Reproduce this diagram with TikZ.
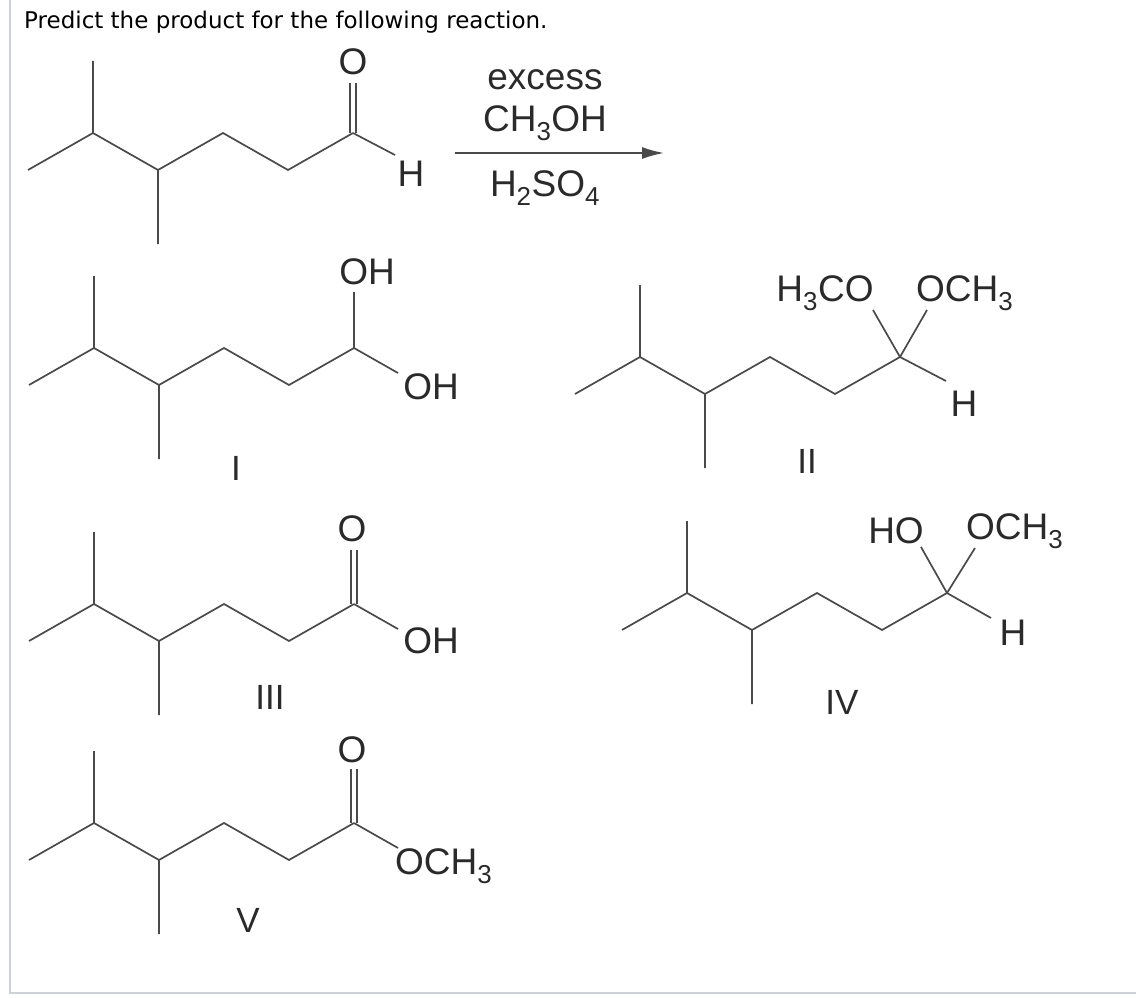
\documentclass[tikz,border=0pt]{standalone}
\usepackage{fontspec}
\usetikzlibrary{arrows.meta}
\setmainfont{Liberation Sans}
\newfontfamily\titlefont{DejaVu Sans}
\definecolor{ink}{HTML}{2A2A2A}
\definecolor{frame}{HTML}{CDD3DB}
\newcommand\skel[3]{%
 \coordinate (#1t) at (#2,#3-72);
 \coordinate (#1b) at (#2,#3);
 \coordinate (#1l) at (#2-65,#3+37);
 \coordinate (#1c4) at (#2+65,#3+37);
 \coordinate (#1m) at (#2+65,#3+111);
 \coordinate (#1c3) at (#2+130,#3);
 \coordinate (#1c2) at (#2+195,#3+37);
 \coordinate (#1c1) at (#2+260,#3);
 \draw[bond] (#1t)--(#1b)--(#1l) (#1b)--(#1c4)--(#1c3)--(#1c2)--(#1c1) (#1c4)--(#1m);}
\tikzset{bond/.style={draw=ink!85,line width=1.7pt},
 lab/.style={text=ink,font=\fontsize{37}{40}\selectfont,inner sep=0pt},
 num/.style={text=ink,font=\fontsize{35}{40}\selectfont,inner sep=0pt}}
\begin{document}
\begin{tikzpicture}[x=1pt,y=-1pt]
\useasboundingbox (0,0) rectangle (1136,998);
\fill[white] (0,0) rectangle (1136,998);
\draw[frame,line width=1.5pt] (10,0) -- (10,993) -- (1136,993);
\node[anchor=west,inner sep=0pt,font=\titlefont\fontsize{23}{26}\selectfont] (title) at (24,22) {Predict the product for the following reaction.};
% reactant
\skel{r}{93}{133}
\node[lab] (rO) at (353,62) {O};
\draw[bond] ([xshift=-3pt]rc1) -- ++(0,-50) ([xshift=3pt]rc1) -- ++(0,-50);
\coordinate (rhb) at (395,155);
\draw[bond] (rc1) -- (rhb);
\node[lab] (rH) at (411,174) {H};
\coordinate (a1) at (455,153); \coordinate (a2) at (664,153);
\draw[bond,-{Latex[length=22pt,width=12pt]}] (a1) -- (a2);
\node[lab] (ex) at (545,80) {excess};
\node[lab] (me) at (545,123) {CH\textsubscript{3}OH};
\node[lab] (ac) at (545,188) {H\textsubscript{2}SO\textsubscript{4}};
% I
\skel{i}{94}{348}
\draw[bond] (ic1) -- ++(0,-56);
\node[lab] (iO1) at (367,272) {OH};
\draw[bond] (ic1) -- ++(44,25);
\node[lab] (iO2) at (431,387) {OH};
\node[num] (iL) at (236,468) {I};
% III
\skel{c}{94}{604}
\draw[bond] ([xshift=-3pt]cc1) -- ++(0,-54) ([xshift=3pt]cc1) -- ++(0,-54);
\node[lab] (cO) at (352,529) {O};
\draw[bond] (cc1) -- ++(44,25);
\node[lab] (cOH) at (431,641) {OH};
\node[num] (cL) at (270,697) {III};
% V
\skel{v}{94}{823}
\draw[bond] ([xshift=-3pt]vc1) -- ++(0,-54) ([xshift=3pt]vc1) -- ++(0,-54);
\node[lab] (vO) at (352,750) {O};
\draw[bond] (vc1) -- ++(44,25);
\node[lab,anchor=west] (vOM) at (395,866) {OCH\textsubscript{3}};
\node[num] (vL) at (248,920) {V};
% II
\skel{t}{640}{357}
\draw[bond] (tc1) -- (873,310) (tc1) -- (927,310) (tc1) -- (946,381);
\node[lab] (tA) at (825,293) {H\textsubscript{3}CO};
\node[lab,anchor=west] (tB) at (916,293) {OCH\textsubscript{3}};
\node[lab] (tH) at (964,404) {H};
\node[num] (tL) at (807,461) {II};
% IV
\skel{f}{687}{593}
\draw[bond] (fc1) -- (921,547) (fc1) -- (975,548) (fc1) -- (991,618);
\node[lab] (fA) at (896,531) {HO};
\node[lab,anchor=west] (fB) at (966,531) {OCH\textsubscript{3}};
\node[lab] (fH) at (1013,633) {H};
\node[num] (fL) at (842,702) {IV};
\end{tikzpicture}
\end{document}
